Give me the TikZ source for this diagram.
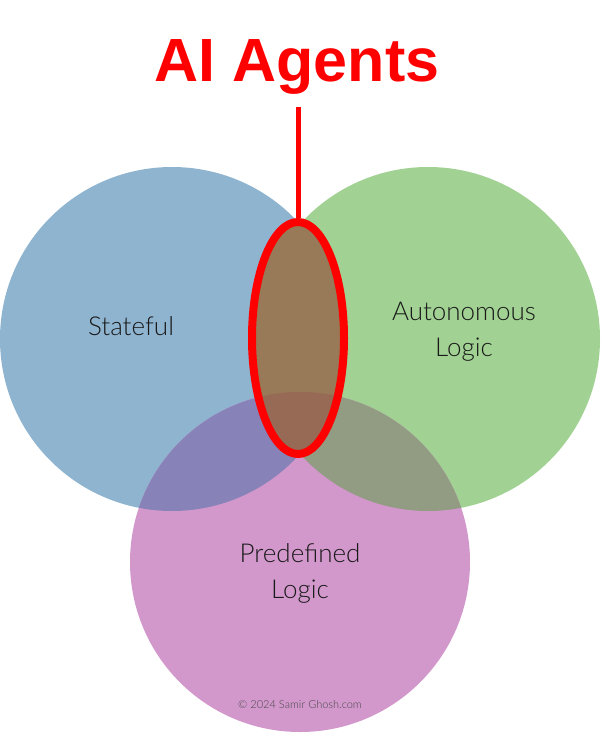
\documentclass[tikz,border=0pt]{standalone}
\usepackage{fontspec}
\setmainfont{Lato Light}
\newfontfamily\titlefont{Liberation Sans}
\usetikzlibrary{shapes.geometric}

\definecolor{stateblue}{RGB}{143,180,208}
\definecolor{autogreen}{RGB}{161,210,147}
\definecolor{predpink}{RGB}{210,152,204}
\definecolor{lensbrown}{RGB}{152,122,88}
\definecolor{bluepink}{RGB}{135,131,184}
\definecolor{greenpink}{RGB}{146,156,131}
\definecolor{corebrown}{RGB}{150,106,84}
\definecolor{agentred}{RGB}{255,0,0}
\definecolor{labelgray}{RGB}{25,25,25}

\tikzset{
  setlabel/.style={text=labelgray, align=center, font=\fontsize{26}{36}\selectfont},
  smallprint/.style={text=labelgray!80, font=\fontsize{11}{13}\selectfont},
  focusring/.style={ellipse, draw=agentred, line width=8pt,
    minimum width=92pt, minimum height=232pt, inner sep=0pt},
}

\begin{document}
\begin{tikzpicture}[x=1pt, y=-1pt]
    \useasboundingbox (0,0) rectangle (600,733);
    % the three sets
    \fill[stateblue] (172,339) circle (172);
    \fill[autogreen] (428,339) circle (172);
    \fill[predpink] (300,562) circle (170);
    % pairwise overlaps
    \begin{scope}
        \clip (172,339) circle (172);
        \fill[bluepink] (300,562) circle (170);
    \end{scope}
    \begin{scope}
        \clip (428,339) circle (172);
        \fill[greenpink] (300,562) circle (170);
    \end{scope}
    % the agents region, filled up to the ring
    \fill[lensbrown] (298,338) ellipse (46 and 116);
    \begin{scope}
        \clip (298,338) ellipse (46 and 116);
        \fill[corebrown] (300,562) circle (170);
    \end{scope}

    \node[setlabel] (stateful) at (131,326) {Stateful};
    \node[setlabel] (autonomous) at (464,332) {Autonomous\\Logic};
    \node[setlabel] (predefined) at (300,573) {Predefined\\Logic};
    \node[smallprint] (copyright) at (300,705) {© 2024 Samir Ghosh.com};

    \node[anchor=base, text=agentred, font=\titlefont\bfseries\fontsize{61}{70}\selectfont] (title) at (297,82) {AI Agents};
    \node[focusring] (focus) at (298,338) {};
    \coordinate (stem) at (298,107);
    \draw[agentred, line width=5pt] (stem) -- (focus.north);
\end{tikzpicture}
\end{document}
